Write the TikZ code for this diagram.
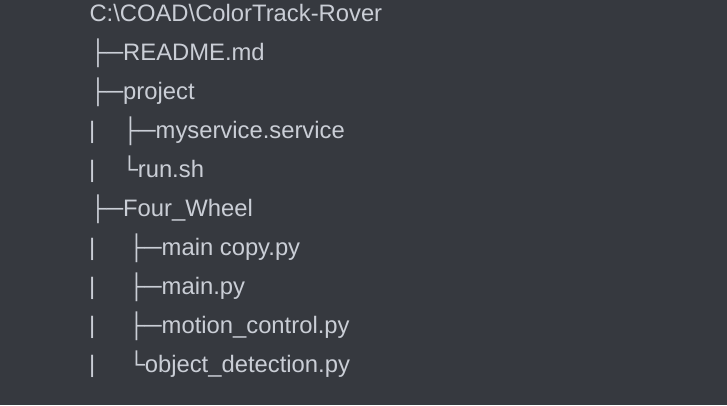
\documentclass[tikz,border=0pt]{standalone}
\usepackage{fontspec}
\setmainfont{Liberation Sans}
\definecolor{bg}{RGB}{54,57,63}
\definecolor{fg}{RGB}{202,206,214}
\begin{document}
\begin{tikzpicture}[x=1pt,y=-1pt,
  entry/.style={anchor=base west,inner sep=0pt,outer sep=0pt,text=fg,font=\fontsize{23.8}{28}\selectfont}]
\fill[bg] (0,0) rectangle (727,405);
\useasboundingbox (0,0) rectangle (727,405);
\node[entry] (root) at (89.5,21.5) {C:\textbackslash COAD\textbackslash ColorTrack-Rover};
\node[entry] (readme) at (89.5,60.5) {├─README.md};
\node[entry] (project) at (89.5,99.5) {├─project};
\node[entry] (p1) at (89,138.5) {|};
\node[entry] (myservice) at (122,138.5) {├─myservice.service};
\node[entry] (p2) at (89,177.5) {|};
\node[entry] (runsh) at (121,177.5) {└run.sh};
\node[entry] (four) at (89.5,216.5) {├─Four\_Wheel};
\node[entry] (p3) at (89,255.5) {|};
\node[entry] (maincopy) at (128,255.5) {├─main copy.py};
\node[entry] (p4) at (89,294.5) {|};
\node[entry] (mainpy) at (128,294.5) {├─main.py};
\node[entry] (p5) at (89,333.5) {|};
\node[entry] (motion) at (128,333.5) {├─motion\_control.py};
\node[entry] (p6) at (89,372.5) {|};
\node[entry] (objdet) at (128,372.5) {└object\_detection.py};
\end{tikzpicture}
\end{document}
